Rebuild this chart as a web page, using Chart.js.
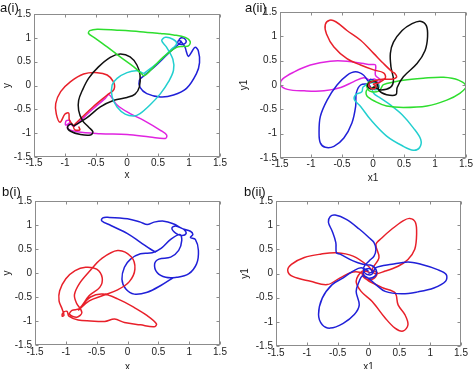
<!DOCTYPE html>
<html>
<head>
<meta charset="utf-8">
<script src="https://cdn.jsdelivr.net/npm/chart.js@4.4.0/dist/chart.umd.min.js"></script>
<style>
  html, body { margin: 0; padding: 0; background: #fff; overflow: hidden; width: 474px; height: 369px; }
  canvas { position: absolute; }
  .tag { position: absolute; font: 13px Arial, "Liberation Sans", sans-serif; color: #111; z-index: 2; }
</style>
</head>
<body>
<canvas id="ai" width="237" height="181" style="left:0;top:0"></canvas>
<canvas id="aii" width="250" height="184" style="left:237px;top:0"></canvas>
<canvas id="bi" width="237" height="188" style="left:0;top:185px"></canvas>
<canvas id="bii" width="250" height="188" style="left:237px;top:185px"></canvas>
<div class="tag" style="left:0;top:0">a(i)</div>
<div class="tag" style="left:245px;top:0">a(ii)</div>
<div class="tag" style="left:2px;top:184px">b(i)</div>
<div class="tag" style="left:244px;top:184px">b(ii)</div>
<script>
// axis ticks shared by every panel
const tickValues = [-1.5, -1, -0.5, 0, 0.5, 1, 1.5];
const tickLabels = ['-1.5', '-1', '-0.5', '0', '0.5', '1', '1.5'];

// ---- a(i): x vs y, six coloured trajectories ----
const aiBlue = [[0.88,0.92],[0.84,0.96],[0.88,1.0],[0.94,0.97],[0.95,0.9],[0.89,0.86],[0.82,0.89],[0.84,0.95],
  [0.93,0.82],[0.96,0.7],[0.99,0.61],[1.05,0.72],[1.1,0.8],[1.15,0.73],[1.17,0.48],[1.12,0.25],[0.96,-0.06],
  [0.75,-0.2],[0.54,-0.24],[0.32,-0.17],[0.21,-0.04],[0.2,0.11],[0.27,0.2],[0.45,0.4],[0.65,0.65],[0.82,0.85],[0.88,0.92]];
const aiGreen = [[0.27,0.2],[0.11,0.39],[-0.11,0.6],[-0.32,0.81],[-0.51,0.99],[-0.62,1.09],[-0.6,1.15],[-0.48,1.18],
  [-0.16,1.16],[0.21,1.13],[0.54,1.09],[0.75,1.06],[0.94,1.01],[1.02,0.92],[0.99,0.83],[0.9,0.82],[0.8,0.8],
  [0.59,0.6],[0.43,0.39],[0.32,0.24],[0.27,0.2]];
const aiCyan = [[0.27,0.25],[0.48,0.46],[0.7,0.74],[0.8,0.88],[0.74,0.97],[0.62,1.01],[0.56,0.94],[0.64,0.8],
  [0.74,0.55],[0.75,0.32],[0.67,0.08],[0.54,-0.17],[0.37,-0.41],[0.21,-0.59],[0.11,-0.64],[-0.03,-0.6],
  [-0.16,-0.45],[-0.24,-0.24],[-0.24,0.01],[-0.16,0.15],[0,0.27],[0.16,0.31],[0.27,0.25]];
const aiBlack = [[-0.86,-0.85],[-0.65,-0.68],[-0.43,-0.45],[-0.21,-0.31],[0,-0.25],[0.13,-0.18],[0.2,-0.03],
  [0.21,0.22],[0.16,0.43],[0.05,0.6],[-0.11,0.66],[-0.27,0.59],[-0.46,0.39],[-0.62,0.15],[-0.72,-0.1],
  [-0.78,-0.31],[-0.78,-0.52],[-0.72,-0.73],[-0.62,-0.87],[-0.55,-0.97],[-0.59,-1.04],[-0.75,-1.03],
  [-0.91,-0.96],[-0.96,-0.87],[-0.9,-0.81],[-0.86,-0.85]];
const aiRed = [[-0.86,-0.85],[-0.93,-0.72],[-0.94,-0.58],[-1.0,-0.6],[-1.08,-0.77],[-1.14,-0.6],[-1.15,-0.38],
  [-1.07,-0.13],[-0.91,0.08],[-0.7,0.24],[-0.48,0.27],[-0.32,0.22],[-0.22,0.08],[-0.21,-0.08],[-0.32,-0.2],
  [-0.55,-0.45],[-0.8,-0.76],[-0.86,-0.85],[-0.84,-0.93],[-0.76,-0.93],[-0.78,-0.86]];
const aiMagenta = [[-0.86,-0.86],[-0.93,-0.8],[-0.99,-0.83],[-0.98,-0.74],[-0.92,-0.74],[-0.96,-0.9],[-0.8,-0.97],
  [-0.43,-1.01],[0,-1.03],[0.37,-1.08],[0.62,-1.11],[0.64,-1.04],[0.54,-0.94],[0.27,-0.73],[0.05,-0.59],
  [-0.16,-0.41],[-0.29,-0.19],[-0.35,-0.27],[-0.6,-0.55],[-0.8,-0.8],[-0.86,-0.86]];

// ---- a(ii): x1 vs y1, six petals round the origin ----
const aiiRed = [[0,0.02],[0.05,-0.03],[0.02,-0.08],[-0.05,-0.05],[-0.06,0.03],[0,0.08],[0.15,0.12],[0.3,0.12],
  [0.38,0.16],[0.35,0.24],[0.31,0.27],[0.17,0.44],[0.01,0.65],[-0.2,0.92],[-0.42,1.12],[-0.6,1.3],[-0.7,1.33],
  [-0.77,1.24],[-0.75,1.05],[-0.63,0.78],[-0.42,0.54],[-0.2,0.41],[0.01,0.31],[0.17,0.25],[0.2,0.15],[0.1,0.05],[0,0.02]];
const aiiBlack = [[0.02,-0.04],[-0.04,-0.08],[-0.09,-0.01],[-0.04,0.06],[0.06,0.05],[0.1,-0.12],[0.22,-0.2],[0.37,-0.2],
  [0.39,-0.05],[0.49,0.17],[0.71,0.44],[0.84,0.71],[0.88,0.99],[0.86,1.22],[0.76,1.31],[0.63,1.26],[0.47,1.12],
  [0.33,0.88],[0.28,0.65],[0.29,0.37],[0.33,0.1],[0.28,-0.05],[0.12,-0.1],[0.02,-0.04]];
const aiiGreen = [[0,-0.05],[0.07,-0.02],[0.05,0.06],[-0.03,0.08],[-0.1,0.0],[-0.06,-0.12],[0.1,-0.12],[0.16,0.0],
  [0.22,0.03],[0.49,0.1],[0.81,0.14],[1.14,0.16],[1.38,0.1],[1.5,-0.03],[1.4,-0.17],[1.19,-0.31],[0.87,-0.43],
  [0.49,-0.46],[0.22,-0.43],[0.04,-0.34],[-0.1,-0.22],[-0.1,-0.1],[0,-0.05]];
const aiiCyan = [[-0.02,-0.05],[0.04,-0.1],[0.1,-0.04],[0.06,0.05],[-0.04,0.04],[-0.16,-0.04],[-0.18,-0.14],
  [-0.28,-0.2],[-0.3,-0.3],[-0.2,-0.44],[-0.04,-0.71],[0.22,-1.05],[0.49,-1.26],[0.65,-1.34],[0.75,-1.29],
  [0.77,-1.12],[0.65,-0.88],[0.47,-0.61],[0.28,-0.41],[0.12,-0.27],[0.01,-0.17],[-0.02,-0.05]];
const aiiBlue = [[-0.07,0.02],[-0.02,-0.06],[0.06,-0.03],[0.05,0.06],[-0.04,0.12],[-0.07,0.07],[-0.15,0.2],
  [-0.28,0.27],[-0.42,0.2],[-0.58,0],[-0.74,-0.31],[-0.85,-0.65],[-0.87,-0.99],[-0.85,-1.19],[-0.77,-1.28],
  [-0.63,-1.26],[-0.47,-1.09],[-0.34,-0.78],[-0.28,-0.44],[-0.27,-0.17],[-0.2,0],[-0.07,0.02]];
const aiiMagenta = [[-0.05,0.1],[0.03,0.12],[0.08,0.05],[0.03,-0.03],[0.12,0.1],[0.04,0.2],[0.04,0.41],[-0.04,0.42],
  [-0.15,0.44],[-0.42,0.49],[-0.69,0.49],[-1.01,0.41],[-1.27,0.27],[-1.46,0.12],[-1.49,0],[-1.38,-0.09],
  [-1.11,-0.12],[-0.79,-0.12],[-0.52,-0.05],[-0.31,0.07],[-0.15,0.15],[-0.05,0.1]];

// ---- b(i): x vs y, two trajectories ----
const biBlue = [[0.46,0.43],[0.37,0.5],[0.21,0.64],[0,0.82],[-0.27,0.99],[-0.42,1.09],[-0.4,1.15],[-0.32,1.16],
  [0,1.13],[0.21,1.06],[0.32,1.01],[0.43,1.06],[0.59,1.08],[0.75,1.02],[0.85,0.95],[0.92,0.9],[0.95,0.82],
  [0.88,0.78],[0.78,0.83],[0.72,0.93],[0.78,0.98],[0.9,0.92],[1.02,0.87],[1.06,0.8],[1.02,0.74],[1.1,0.7],
  [1.15,0.47],[1.12,0.19],[0.99,-0.02],[0.8,-0.09],[0.62,-0.09],[0.48,0.01],[0.44,0.19],[0.51,0.29],[0.7,0.33],
  [0.83,0.47],[0.88,0.68],[0.85,0.8],[0.7,0.7],[0.55,0.52],[0.4,0.42],[0.21,0.4],[0.05,0.29],[-0.05,0.12],
  [-0.09,-0.13],[-0.03,-0.33],[0.11,-0.44],[0.32,-0.4],[0.54,-0.26],[0.75,-0.09]];
const biRed = [[-0.8,-0.78],[-0.62,-0.58],[-0.4,-0.47],[-0.16,-0.35],[0.03,-0.18],[0.12,0.08],[0.06,0.34],
  [-0.16,0.47],[-0.42,0.3],[-0.62,0.03],[-0.78,-0.22],[-0.86,-0.45],[-0.83,-0.62],[-0.74,-0.82],[-0.82,-0.92],
  [-0.94,-0.86],[-0.9,-0.78],[-0.78,-0.74],[-0.62,-0.47],[-0.45,-0.3],[-0.41,-0.1],[-0.5,0.08],[-0.68,0.12],
  [-0.85,0.05],[-1.0,-0.12],[-1.1,-0.37],[-1.11,-0.58],[-1.06,-0.75],[-1.03,-0.88],[-1.06,-0.9],[-1.04,-0.82],
  [-0.98,-0.8],[-0.95,-0.9],[-0.8,-0.98],[-0.6,-1.0],[-0.37,-1.01],[-0.21,-0.96],[-0.05,-1.03],[0.21,-1.08],
  [0.43,-1.12],[0.47,-1.06],[0.32,-0.89],[0.11,-0.72],[-0.16,-0.54],[-0.4,-0.44],[-0.6,-0.5],[-0.75,-0.7],[-0.8,-0.78]];

// ---- b(ii): x1 vs y1, two three-petal curves ----
const biiBlue = [[0,0],[0.06,0.04],[0.02,0.1],[-0.07,0.06],[-0.08,-0.04],[0,-0.1],[0.1,-0.06],[0.13,0.05],
  [0.06,0.16],[-0.09,0.19],[-0.25,0.26],[-0.46,0.4],[-0.52,0.43],[-0.53,0.64],[-0.59,0.88],[-0.65,1.06],
  [-0.62,1.18],[-0.54,1.21],[-0.36,1.12],[-0.15,0.92],[0.01,0.74],[0.09,0.64],[0.12,0.5],[0.09,0.36],
  [0.01,0.26],[-0.08,0.12],[-0.05,0],[0.05,-0.02],[0.12,0.12],[0.38,0.19],[0.64,0.24],[0.85,0.19],[1.12,0.08],
  [1.26,-0.02],[1.25,-0.16],[1.06,-0.3],[0.8,-0.38],[0.54,-0.42],[0.27,-0.37],[0.12,-0.23],[0,-0.1],
  [-0.1,-0.05],[-0.15,-0.16],[-0.2,-0.37],[-0.15,-0.65],[-0.23,-0.85],[-0.41,-1.03],[-0.62,-1.13],
  [-0.75,-1.06],[-0.81,-0.85],[-0.75,-0.51],[-0.59,-0.23],[-0.41,-0.09],[-0.25,0.05],[-0.12,0.12],[0,0.05]];
const biiRed = [[0.02,0.02],[-0.05,0.05],[-0.1,-0.03],[-0.03,-0.12],[0.09,-0.1],[0.14,0.02],[0.06,0.08],
  [0.17,0.33],[0.12,0.6],[0.22,0.74],[0.38,0.92],[0.56,1.09],[0.67,1.14],[0.76,1.06],[0.78,0.81],[0.75,0.5],
  [0.64,0.29],[0.48,0.15],[0.27,0.05],[0.1,0],[0,0.15],[-0.25,0.36],[-0.52,0.43],[-0.78,0.4],[-1.04,0.33],
  [-1.25,0.19],[-1.31,0.06],[-1.23,-0.06],[-0.94,-0.16],[-0.67,-0.23],[-0.46,-0.09],[-0.25,0.03],[-0.09,0],
  [-0.05,-0.1],[0.01,-0.16],[0.24,-0.3],[0.43,-0.4],[0.48,-0.65],[0.59,-0.85],[0.64,-1.06],[0.56,-1.19],
  [0.43,-1.13],[0.27,-0.92],[0.06,-0.58],[-0.12,-0.37],[-0.2,-0.16],[-0.1,0.05],[0.02,0.02]];

const RED = '#e8202a', BLUE = '#2020d8', GREEN = '#2ede2e', CYAN = '#22cfcf', MAGENTA = '#e024e0', BLACK = '#111111';
const FONT = { family: 'Arial, "Liberation Sans", sans-serif', size: 10 };

// grey box with MATLAB-style inward ticks on all four sides
const boxPlugin = {
  id: 'box',
  afterDatasetsDraw(chart) {
    const { ctx, chartArea: a, scales } = chart;
    const L = Math.round(a.left) + 0.5, R = Math.round(a.right) - 0.5;
    const T = Math.round(a.top) + 0.5, B = Math.round(a.bottom) - 0.5;
    ctx.save();
    ctx.strokeStyle = '#8c8c8c';
    ctx.lineWidth = 1;
    ctx.strokeRect(L, T, R - L, B - T);
    ctx.beginPath();
    tickValues.forEach(v => {
      const px = Math.round(scales.x.getPixelForValue(v)) + 0.5;
      ctx.moveTo(px, B); ctx.lineTo(px, B - 3);
      ctx.moveTo(px, T); ctx.lineTo(px, T + 3);
      const py = Math.round(scales.y.getPixelForValue(v)) + 0.5;
      ctx.moveTo(L, py); ctx.lineTo(L + 3, py);
      ctx.moveTo(R, py); ctx.lineTo(R - 3, py);
    });
    ctx.stroke();
    ctx.restore();
  }
};

function axis(title, size, horizontal, pad) {
  return {
    type: 'linear', min: -1.5, max: 1.5,
    afterBuildTicks: s => { s.ticks = tickValues.map(v => ({ value: v })); },
    afterFit: s => { if (horizontal) s.height = size; else s.width = size; },
    grid: { display: false, drawTicks: false },
    border: { display: false },
    ticks: { font: FONT, color: '#222', padding: pad, maxRotation: 0, autoSkip: false,
      callback: (v, i) => tickLabels[i] },
    title: { display: true, text: title, font: FONT, color: '#222', padding: 0 }
  };
}

function panel(id, series, xTitle, yTitle, yWidth, xHeight, pad, xPad) {
  new Chart(document.getElementById(id), {
    type: 'scatter',
    data: {
      datasets: series.map(s => ({
        data: s[0], borderColor: s[1], borderWidth: 1.5,
        showLine: true, pointRadius: 0, tension: 0.35, fill: false
      }))
    },
    options: {
      responsive: false,
      animation: false,
      layout: { padding: pad },
      plugins: { legend: { display: false }, tooltip: { enabled: false } },
      scales: {
        x: axis(xTitle, xHeight, true, xPad),
        y: axis(yTitle, yWidth, false, 3)
      }
    },
    plugins: [boxPlugin]
  });
}

panel('ai', [[aiGreen, GREEN], [aiCyan, CYAN], [aiBlack, BLACK], [aiRed, RED], [aiMagenta, MAGENTA], [aiBlue, BLUE]],
  'x', 'y', 33, 24, { left: 1, top: 14, right: 17, bottom: 0 }, 0);
panel('aii', [[aiiRed, RED], [aiiBlack, BLACK], [aiiGreen, GREEN], [aiiCyan, CYAN], [aiiBlue, BLUE], [aiiMagenta, MAGENTA]],
  'x1', 'y1', 42, 26, { left: 1, top: 12, right: 21, bottom: 0 }, 0);
panel('bi', [[biRed, RED], [biBlue, BLUE]],
  'x', 'y', 34, 28, { left: 1, top: 16, right: 17, bottom: 0 }, 1);
panel('bii', [[biiBlue, BLUE], [biiRed, RED]],
  'x1', 'y1', 37, 27, { left: 2, top: 16, right: 26, bottom: 0 }, 1);
</script>
</body>
</html>
